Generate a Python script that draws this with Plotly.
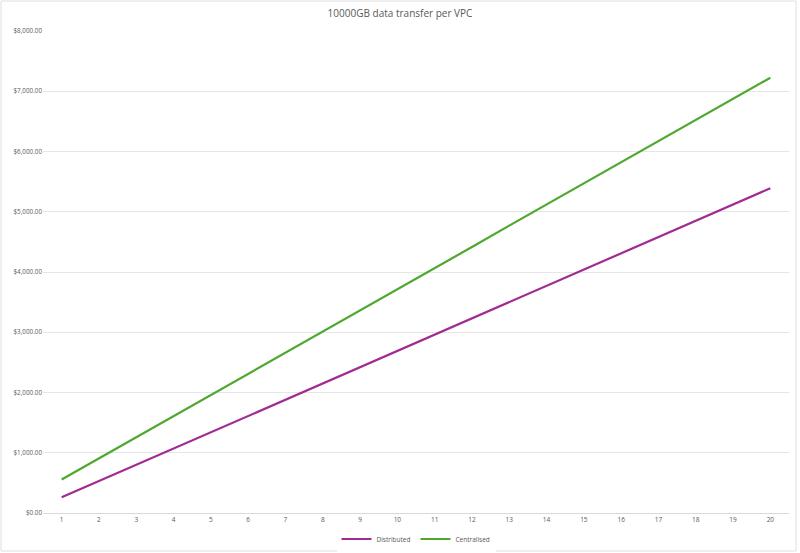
import plotly.graph_objects as go

vpcs = list(range(1, 21))
distributed = [260, 530, 800, 1070, 1340, 1610, 1880, 2150, 2420, 2690,
               2960, 3230, 3500, 3770, 4040, 4310, 4580, 4850, 5120, 5390]
centralised = [555, 905, 1255, 1610, 1960, 2310, 2660, 3010, 3365, 3715,
               4065, 4415, 4770, 5120, 5470, 5820, 6170, 6525, 6875, 7225]
y_ticks = [0, 1000, 2000, 3000, 4000, 5000, 6000, 7000, 8000]
y_labels = ["${:,.2f}".format(v) for v in y_ticks]

W, H = 800, 553
L, R, T, B = 43, 11, 31, 40
pw, ph = W - L - R, H - T - B

fig = go.Figure()
fig.add_trace(go.Scatter(x=vpcs, y=distributed, mode="lines", name="Distributed",
                         line=dict(color="#A02B93", width=2.2)))
fig.add_trace(go.Scatter(x=vpcs, y=centralised, mode="lines", name="Centralised",
                         line=dict(color="#4EA72E", width=2.2)))

fig.update_layout(
    width=W, height=H, autosize=False,
    margin=dict(l=L, r=R, t=T, b=B, pad=0, autoexpand=False),
    paper_bgcolor="white", plot_bgcolor="white",
    font=dict(family="Open Sans, Liberation Sans, sans-serif", color="#595959"),
    title=dict(text="10000GB data transfer per VPC", x=0.5, xanchor="center",
               xref="container", y=1 - 13 / H, yanchor="middle", automargin=False,
               font=dict(size=10, color="#595959")),
    showlegend=True,
    legend=dict(orientation="h", x=0.5, xanchor="center", y=-(539 - 513) / ph,
                yanchor="middle", font=dict(size=6.5, color="#595959"),
                itemwidth=30, tracegroupgap=0),
    xaxis=dict(range=[0.5, 20.5], tickmode="array", tickvals=vpcs,
               ticktext=[str(v) for v in vpcs], showgrid=False, automargin=False,
               showline=True, linecolor="#D9D9D9", linewidth=1,
               ticks="", ticklen=0, tickfont=dict(size=6.5, color="#595959"),
               zeroline=False),
    yaxis=dict(range=[0, 8000], tickmode="array", tickvals=y_ticks,
               ticktext=y_labels, showgrid=True, gridcolor="#E6E6E6", gridwidth=1,
               zeroline=False, showline=False, ticks="", automargin=False,
               tickfont=dict(size=6.3, color="#595959")),
    shapes=[dict(type="rect", xref="paper", yref="paper",
                 x0=(1 - L) / pw, x1=(796 - L) / pw,
                 y0=(T + ph - 551) / ph, y1=(T + ph - 1) / ph,
                 line=dict(color="#E0E0E0", width=1), layer="below")],
)

fig.write_html(
    "out.html",
    config={"displayModeBar": False},
    post_script="document.body.style.margin='0px';document.body.style.overflow='hidden';",
)
